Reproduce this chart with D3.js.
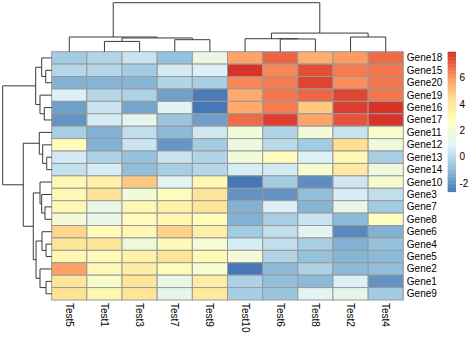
<!DOCTYPE html>
<html>
<head>
<meta charset="utf-8">
<script src="https://cdn.jsdelivr.net/npm/d3@7"></script>
<style>
  html, body { margin: 0; padding: 0; background: #fff; }
  svg { display: block; }
  text { font-family: "Liberation Sans", Arial, Helvetica, sans-serif; }
</style>
</head>
<body>
<svg id="chart" width="474" height="338"></svg>
<script>
// Column (sample) order after clustering
const columns = ["Test5", "Test1", "Test3", "Test7", "Test9", "Test10", "Test6", "Test8", "Test2", "Test4"];

// Row (gene) order after clustering
const genes = ["Gene18", "Gene15", "Gene20", "Gene19", "Gene16", "Gene17", "Gene11", "Gene12", "Gene13", "Gene14",
               "Gene10", "Gene3", "Gene7", "Gene8", "Gene6", "Gene4", "Gene5", "Gene2", "Gene1", "Gene9"];

// Expression values, one array per gene, in column order
const Gene18 = [-0.50, -0.10,  0.40, -0.80,  1.50,  5.70,  7.00,  5.50,  5.90,  6.90];
const Gene15 = [ 0.00, -0.05, -0.50,  0.60,  0.85,  7.90,  6.35,  7.40,  6.50,  6.70];
const Gene20 = [-1.20, -1.10, -1.05, -0.10, -0.40,  6.30,  6.50,  7.65,  6.20,  6.70];
const Gene19 = [ 0.80,  0.00, -0.30, -1.65, -2.45,  5.60,  6.60,  6.95,  7.60,  6.60];
const Gene16 = [-1.60,  0.35, -1.50,  0.90, -2.64,  5.60,  6.50,  5.00,  7.75,  7.98];
const Gene17 = [-1.95,  0.75,  1.20, -0.70, -1.60,  6.90,  7.70,  5.70,  7.30,  7.95];
const Gene11 = [-0.35, -1.20,  0.20, -1.00,  0.45,  1.90, -0.10,  1.90,  0.40,  2.30];
const Gene12 = [ 2.85, -1.25,  0.35, -1.80, -0.50,  1.70,  0.10, -0.50,  4.40,  1.80];
const Gene13 = [ 0.65, -0.20, -0.75,  0.35, -0.15,  1.90,  2.80,  0.85,  3.00, -0.40];
const Gene14 = [ 0.25,  0.75, -0.90, -0.35, -0.05,  0.70,  0.65,  2.10,  3.80,  1.80];
const Gene10 = [ 3.00,  3.50,  5.00,  1.10,  3.10, -2.55, -0.45, -2.10,  0.50,  2.15];
const Gene3  = [ 3.05,  4.30,  1.90,  2.80,  4.20, -2.00, -2.00, -0.90,  0.75,  0.20];
const Gene7  = [ 3.00,  1.50,  3.00,  3.50,  4.10, -1.20,  0.80, -1.15,  1.35, -0.50];
const Gene8  = [ 1.95,  1.40,  2.80,  3.10,  2.80, -1.20, -0.40,  0.35, -1.00,  2.75];
const Gene6  = [ 4.60,  2.90,  3.20,  4.70,  3.60, -0.45,  0.20,  1.15, -2.20, -1.20];
const Gene4  = [ 4.10,  4.10,  1.80,  2.95,  2.10,  0.70,  0.20, -0.40, -1.20, -0.80];
const Gene5  = [ 3.20,  2.90,  3.50,  4.20,  2.95,  1.95, -0.15, -0.80, -1.05, -1.00];
const Gene2  = [ 5.75,  3.00,  3.70,  2.80,  2.20, -2.60, -0.95, -0.20, -0.95, -0.90];
const Gene1  = [ 4.10,  2.30,  4.10,  1.60,  3.70, -0.30, -0.90, -1.00,  0.80, -1.95];
const Gene9  = [ 4.20,  3.00,  4.10,  1.30,  3.90, -0.35, -0.65,  1.00,  1.30, -0.50];

const valueRows = [Gene18, Gene15, Gene20, Gene19, Gene16, Gene17, Gene11, Gene12, Gene13, Gene14,
                   Gene10, Gene3, Gene7, Gene8, Gene6, Gene4, Gene5, Gene2, Gene1, Gene9];

// Hierarchical clustering merges: [left, right, height]; numbers refer to earlier merges
const rowMerges = [
  ["Gene15", "Gene20", 2.07],   // 0
  ["Gene18", 0, 3.47],          // 1
  ["Gene16", "Gene17", 2.57],   // 2
  ["Gene19", 2, 4.06],          // 3
  [1, 3, 5.56],                 // 4
  ["Gene13", "Gene14", 1.73],   // 5
  ["Gene12", 5, 3.13],          // 6
  ["Gene11", 6, 4.30],          // 7
  ["Gene7", "Gene8", 2.33],     // 8
  ["Gene3", 8, 3.47],           // 9
  ["Gene10", 9, 4.06],          // 10
  ["Gene4", "Gene5", 1.97],     // 11
  ["Gene6", 11, 3.37],          // 12
  ["Gene1", "Gene9", 1.97],     // 13
  ["Gene2", 13, 4.06],          // 14
  [12, 14, 5.44],               // 15
  [10, 15, 6.39],               // 16
  [7, 16, 9.86],                // 17
  [4, 17, 17.0]                 // 18
];

const colMerges = [
  ["Test1", "Test3", 4.62],     // 0
  ["Test7", "Test9", 5.39],     // 1
  [0, 1, 6.16],                 // 2
  ["Test5", 2, 6.60],           // 3
  ["Test6", "Test8", 5.72],     // 4
  ["Test10", 4, 5.83],          // 5
  ["Test2", "Test4", 6.60],     // 6
  [5, 6, 8.36],                 // 7
  [3, 7, 22.0]                  // 8
];

// Legend tick labels
const legendTicks = [-2, 0, 2, 4, 6];

// RdYlBu (7 classes), reversed
const palette = ["#4575B4", "#91BFDB", "#E0F3F8", "#FFFFBF", "#FEE090", "#FC8D59", "#D73027"];

// ---------------------------------------------------------------------------
const svg = d3.select("#chart");
svg.append("rect").attr("width", 474).attr("height", 338).attr("fill", "#fff");

const hmLeft = 51.7, hmRight = 403.3, hmTop = 51.7, hmBottom = 300;

const x = d3.scaleBand().domain(columns).range([hmLeft, hmRight]);
const y = d3.scaleBand().domain(genes).range([hmTop, hmBottom]);

const allValues = valueRows.flat();
const [vmin, vmax] = d3.extent(allValues);

// 100-step colour ramp over evenly spaced breaks between min and max
const ramp = d3.scaleLinear()
  .domain(palette.map((_, i) => vmin + (vmax - vmin) * i / (palette.length - 1)))
  .range(palette)
  .interpolate(d3.interpolateRgb);
const nColors = 100;
function colour(v) {
  let k = Math.floor((v - vmin) / (vmax - vmin) * nColors);
  k = Math.max(0, Math.min(nColors - 1, k));
  return ramp(vmin + (k + 0.5) * (vmax - vmin) / nColors);
}

// Heatmap cells
const cells = [];
valueRows.forEach((row, i) => row.forEach((v, j) => cells.push({ gene: genes[i], col: columns[j], v })));

svg.append("g")
  .selectAll("rect")
  .data(cells)
  .join("rect")
  .attr("x", d => x(d.col))
  .attr("y", d => y(d.gene))
  .attr("width", x.bandwidth())
  .attr("height", y.bandwidth())
  .attr("fill", d => colour(d.v))
  .attr("stroke", "#999999")
  .attr("stroke-width", 1);

// Dendrogram builder: returns line segments from a merge table
function dendroSegments(merges, leafPos) {
  const nodes = merges.map(() => null);
  const pos = m => typeof m === "number" ? nodes[m] : { p: leafPos(m), h: 0 };
  const segs = [];
  merges.forEach((m, i) => {
    const a = pos(m[0]), b = pos(m[1]), h = m[2];
    segs.push({ p1: a.p, h1: a.h, p2: a.p, h2: h });
    segs.push({ p1: b.p, h1: b.h, p2: b.p, h2: h });
    segs.push({ p1: a.p, h1: h, p2: b.p, h2: h });
    nodes[i] = { p: (a.p + b.p) / 2, h };
  });
  return segs;
}

// Column dendrogram (above)
const colH = d3.scaleLinear().domain([0, d3.max(colMerges, d => d[2])]).range([hmTop, 2.7]);
const colSegs = dendroSegments(colMerges, c => x(c) + x.bandwidth() / 2);
svg.append("g")
  .selectAll("line")
  .data(colSegs)
  .join("line")
  .attr("x1", d => d.p1).attr("x2", d => d.p2)
  .attr("y1", d => colH(d.h1)).attr("y2", d => colH(d.h2))
  .attr("stroke", "#3a3a3a").attr("stroke-width", 1);

// Row dendrogram (left)
const rowH = d3.scaleLinear().domain([0, d3.max(rowMerges, d => d[2])]).range([hmLeft, 2.7]);
const rowSegs = dendroSegments(rowMerges, g => y(g) + y.bandwidth() / 2);
svg.append("g")
  .selectAll("line")
  .data(rowSegs)
  .join("line")
  .attr("y1", d => d.p1).attr("y2", d => d.p2)
  .attr("x1", d => rowH(d.h1)).attr("x2", d => rowH(d.h2))
  .attr("stroke", "#3a3a3a").attr("stroke-width", 1);

// Gene labels
svg.append("g")
  .selectAll("text")
  .data(genes)
  .join("text")
  .attr("x", hmRight + 3.5)
  .attr("y", g => y(g) + y.bandwidth() / 2)
  .attr("dy", "0.35em")
  .attr("font-size", 10)
  .attr("fill", "#000")
  .text(g => g);

// Column labels, rotated
svg.append("g")
  .selectAll("text")
  .data(columns)
  .join("text")
  .attr("transform", c => `translate(${x(c) + x.bandwidth() / 2},${hmBottom + 3})rotate(90)`)
  .attr("dy", "0.35em")
  .attr("font-size", 10)
  .attr("fill", "#000")
  .text(c => c);

// Colour legend
const legTop = 51.7, legBottom = 191.7, legX = 447.7, legW = 8.3;
const legY = d3.scaleLinear().domain([vmin, vmax]).range([legBottom, legTop]);
const steps = d3.range(nColors);
const stepH = (legBottom - legTop) / nColors;
svg.append("g")
  .selectAll("rect")
  .data(steps)
  .join("rect")
  .attr("x", legX)
  .attr("y", k => legBottom - (k + 1) * stepH)
  .attr("width", legW)
  .attr("height", stepH + 0.4)
  .attr("fill", k => colour(vmin + (k + 0.5) * (vmax - vmin) / nColors));

svg.append("g")
  .selectAll("text")
  .data(legendTicks)
  .join("text")
  .attr("x", legX + legW + 3.5)
  .attr("y", t => legY(t))
  .attr("dy", "0.35em")
  .attr("font-size", 10)
  .attr("fill", "#000")
  .text(t => t);
</script>
</body>
</html>
